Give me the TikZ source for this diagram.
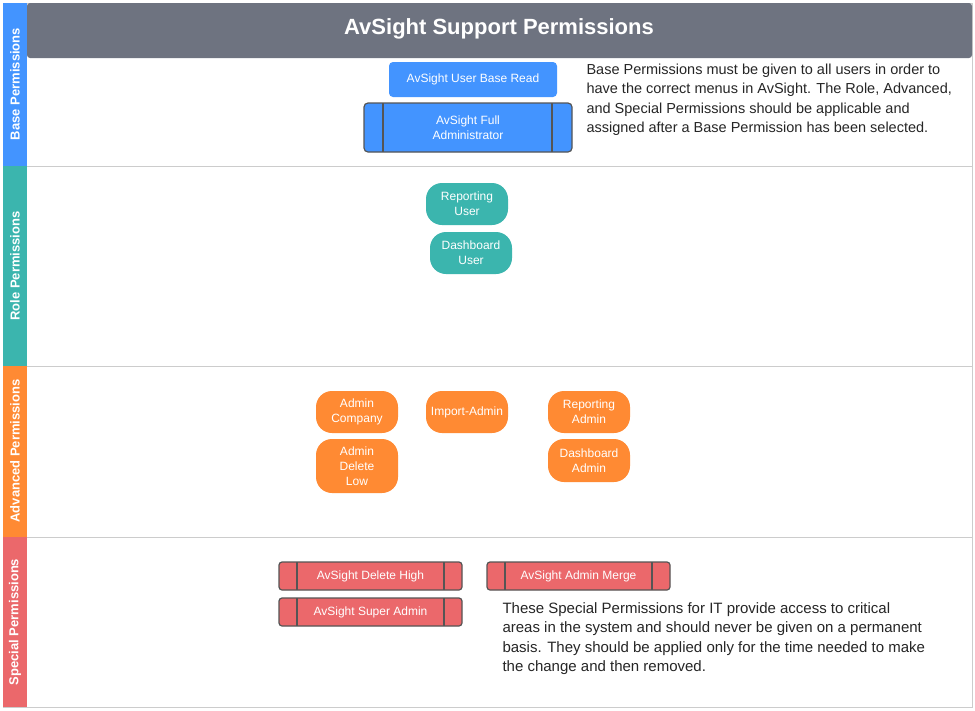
\documentclass[tikz,border=0pt]{standalone}
\usepackage{fontspec}
\setmainfont{Liberation Sans}
\usetikzlibrary{positioning}
\definecolor{baseblue}{HTML}{4394FF}
\definecolor{roleteal}{HTML}{3BB5AE}
\definecolor{advorange}{HTML}{FF8A33}
\definecolor{specred}{HTML}{EB686B}
\definecolor{headgray}{HTML}{6E7380}
\definecolor{linegray}{HTML}{CCCCCC}
\definecolor{edgegray}{HTML}{555555}
\tikzset{
  lanebar/.style={draw=linegray, line width=0.8pt},
  lanelabel/.style={rotate=90, text=white, font=\fontsize{13}{15}\selectfont\bfseries},
  perm/.style={rounded corners=4pt, text=white, align=center, font=\fontsize{12}{15}\selectfont, inner sep=0pt},
  pill/.style={perm, rounded corners=15pt},
  proc/.style={perm, draw=edgegray, line width=1.2pt},
  note/.style={anchor=north west, align=left, text=black!85, font=\fontsize{14.5}{19.5}\selectfont}
}
\begin{document}
\begin{tikzpicture}[x=1pt, y=-1pt]
\useasboundingbox (0,0) rectangle (975,710);
\fill[white] (0,0) rectangle (975,710);

% lanes
\fill[baseblue] (3,3) rectangle (27,166);
\fill[roleteal] (3,166) rectangle (27,366);
\fill[advorange] (3,366) rectangle (27,537);
\fill[specred] (3,537) rectangle (27,707);
\draw[lanebar] (27,3) -- (972,3) -- (972,707) -- (3,707);
\foreach \y in {166,366,537} \draw[lanebar] (27,\y) -- (972,\y);
\node[lanelabel] (lbase) at (15,84) {Base Permissions};
\node[lanelabel] (lrole) at (15,266) {Role Permissions};
\node[lanelabel] (ladv) at (15,451) {Advanced Permissions};
\node[lanelabel] (lspec) at (15,622) {Special Permissions};

% header
\fill[headgray, rounded corners=3pt] (27,3) rectangle (972,58);
\node[text=white, font=\fontsize{22}{26}\selectfont\bfseries] (title) at (499,29) {AvSight Support Permissions};

% base
\fill[baseblue, rounded corners=4pt] (389,62) rectangle (557,97);
\node[perm] (baseread) at (473,79.5) {AvSight User Base Read};
\filldraw[proc, fill=baseblue] (364,103) rectangle (572,152);
\draw[edgegray, line width=1.2pt] (383,103) -- (383,152) (552,103) -- (552,152);
\node[perm, align=center] (fulladmin) at (468,127.5) {AvSight Full\\Administrator};
\node[note] (basenote) at (583,60) {Base Permissions must be given to all users in order to\\have the correct menus in AvSight. The Role, Advanced,\\and Special Permissions should be applicable and\\assigned after a Base Permission has been selected.};

% role
\fill[roleteal, rounded corners=16pt] (426,183) rectangle (508,225);
\node[perm] (repuser) at (467,204) {Reporting\\User};
\fill[roleteal, rounded corners=16pt] (430,232) rectangle (512,274);
\node[perm] (dashuser) at (471,253) {Dashboard\\User};

% advanced
\foreach \x/\y/\h/\name/\txt in {316/391/42/admco/{Admin\\Company}, 426/391/42/impadm/{Import-Admin}, 548/391/42/repadm/{Reporting\\Admin}, 316/439/54/admdel/{Admin\\Delete\\Low}, 548/439/43/dashadm/{Dashboard\\Admin}} {
  \fill[advorange, rounded corners=16pt] (\x,\y) rectangle ++(82,\h);
  \node[perm] (\name) at (\x+41,\y+\h/2) {\txt};
}

% special
\foreach \x/\y/\name/\txt in {279/562/delhigh/{AvSight Delete High}, 487/562/merge/{AvSight Admin Merge}, 279/598/superadm/{AvSight Super Admin}} {
  \filldraw[fill=specred, draw=edgegray, line width=1.2pt, rounded corners=3pt] (\x,\y) rectangle ++(183,28);
  \draw[edgegray, line width=1.2pt] (\x+18,\y) -- ++(0,28) (\x+165,\y) -- ++(0,28);
  \node[perm] (\name) at (\x+91.5,\y+14) {\txt};
}
\node[note, font=\fontsize{15}{19.5}\selectfont] (specnote) at (499,599) {These Special Permissions for IT provide access to critical\\areas in the system and should never be given on a permanent\\basis. They should be applied only for the time needed to make\\the change and then removed.};
\end{tikzpicture}
\end{document}
